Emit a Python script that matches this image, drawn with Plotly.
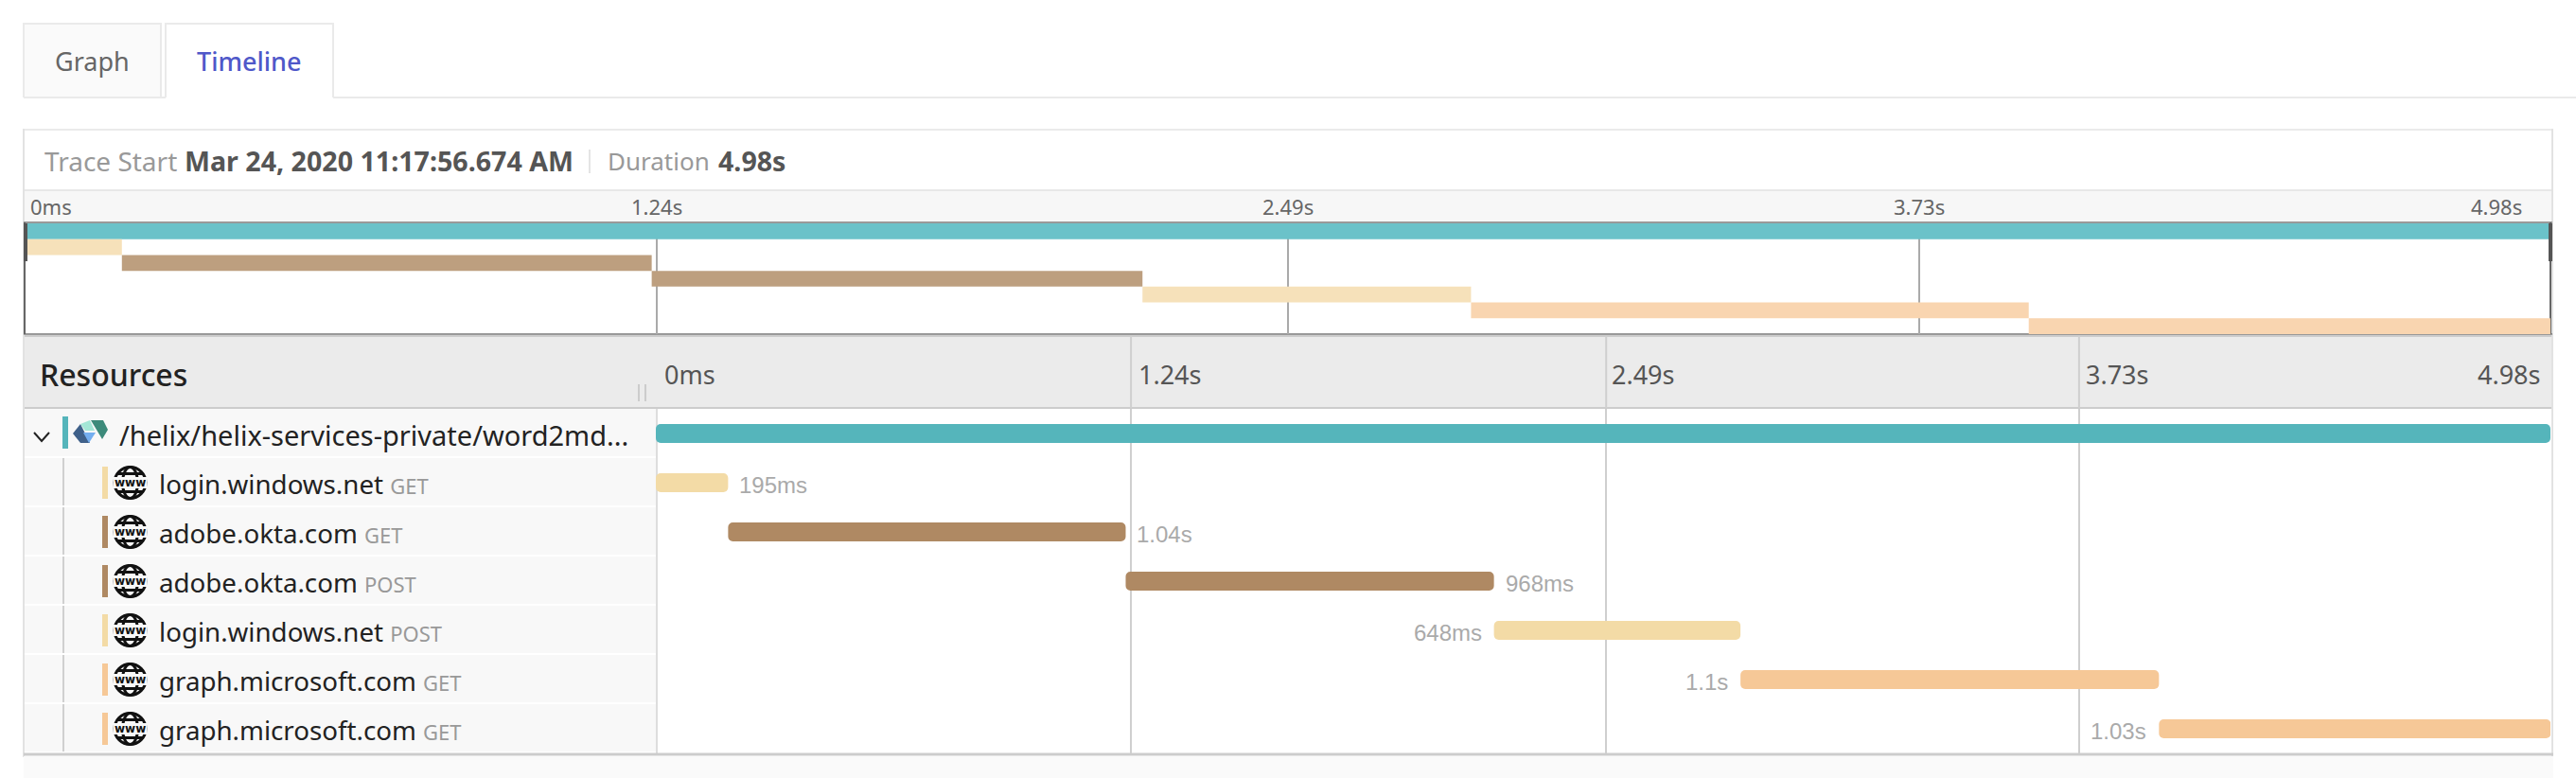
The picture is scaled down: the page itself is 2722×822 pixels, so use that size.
import plotly.graph_objects as go

W, H = 2722, 822

# trace data, seconds
resources = ['/helix/helix-services-private/word2md...', 'login.windows.net', 'adobe.okta.com',
             'adobe.okta.com', 'login.windows.net', 'graph.microsoft.com', 'graph.microsoft.com']
methods = ['', 'GET', 'GET', 'POST', 'POST', 'GET', 'GET']
starts = [0, 0, 0.19, 1.235, 2.203, 2.851, 3.951]
durations = [4.98, 0.19, 1.045, 0.968, 0.648, 1.1, 1.03]
duration_labels = ['', '195ms', '1.04s', '968ms', '648ms', '1.1s', '1.03s']
label_sides = ['', 'right', 'right', 'right', 'left', 'left', 'left']
bar_colors = ['#55b5bb', '#f3dba6', '#af8963', '#af8963', '#f3dba6', '#f6c897', '#f6c897']
mini_colors = ['#6bc2c9', '#f6e1ba', '#bd9f7f', '#bd9f7f', '#f6e1ba', '#f9d5b0', '#f9d5b0']
tick_vals = [0, 1.245, 2.49, 3.735, 4.98]
tick_text = ['0ms', '1.24s', '2.49s', '3.73s', '4.98s']
# the row pane's gridlines sit a touch to the right of the minimap's
main_grid = [1.249, 2.498, 3.741]
rows = list(range(len(resources)))

UI_FONT = 'Noto Sans'
BAR_FONT = 'Liberation Sans'


def px(x):
    return x / W


def py(y):
    return 1 - y / H


def rect(x0, y0, x1, y1, fill, layer='below'):
    return dict(type='rect', xref='paper', yref='paper', x0=px(x0), x1=px(x1), y0=py(y0), y1=py(y1),
                fillcolor=fill, line=dict(width=0), layer=layer)


def hline(x0, x1, y, color, width=2):
    return dict(type='line', xref='paper', yref='paper', x0=px(x0), x1=px(x1), y0=py(y), y1=py(y),
                line=dict(color=color, width=width), layer='below')


def polygon(points, fill):
    path = 'M ' + ' L '.join(f'{px(x):.5f},{py(y):.5f}' for x, y in points) + ' Z'
    return dict(type='path', xref='paper', yref='paper', path=path, fillcolor=fill, line=dict(width=0), layer='above')


def label(x, y, text, size, color, anchor='left', family=UI_FONT, weight=None):
    return dict(xref='paper', yref='paper', x=px(x), y=py(y), text=text, showarrow=False, xanchor=anchor,
                yanchor='middle', borderpad=0, font=dict(size=size, color=color, family=family, weight=weight))


def globe(cx, cy):
    r = 16.5
    items = []
    for rx in (r, 8):
        items.append(dict(type='circle', xref='paper', yref='paper', x0=px(cx - rx), x1=px(cx + rx),
                          y0=py(cy - r), y1=py(cy + r), line=dict(color='#111111', width=3), layer='above'))
    for dy in (-9.5, 9.5):
        items.append(dict(type='line', xref='paper', yref='paper', x0=px(cx - 14), x1=px(cx + 14),
                          y0=py(cy + dy), y1=py(cy + dy), line=dict(color='#111111', width=3), layer='above'))
    items.append(rect(cx - 18, cy - 6, cx + 18, cy + 6, '#f8f8f8', layer='above'))
    return items


fig = go.Figure()

# minimap
fig.add_trace(go.Bar(y=rows, x=durations, base=starts, orientation='h', width=1.0,
                     marker=dict(color=mini_colors, line=dict(width=0)),
                     xaxis='x', yaxis='y', hoverinfo='skip', showlegend=False))
# main timeline
fig.add_trace(go.Bar(y=rows, x=durations, base=starts, orientation='h', width=20 / 52,
                     marker=dict(color=bar_colors, line=dict(width=0), cornerradius=5),
                     xaxis='x2', yaxis='y2', hoverinfo='skip', showlegend=False))

shapes = []
# tabs
shapes.append(rect(25, 24, 170, 103, '#fafafa'))
shapes.append(hline(25, 2722, 103, '#eaeaea'))
shapes.append(rect(175, 24, 352, 105, '#ffffff'))
for x0, x1 in ((25, 170), (175, 352)):
    shapes.append(hline(x0, x1, 25, '#eaeaea'))
    shapes.append(rect(x0 - 1, 24, x0 + 1, 103, '#eaeaea'))
    shapes.append(rect(x1 - 1, 24, x1 + 1, 103, '#eaeaea'))

# panel frame
shapes.append(rect(25, 136, 2698, 800, '#ffffff'))
shapes.append(hline(25, 2698, 137, '#eaeaea'))
shapes.append(rect(24, 136, 26, 800, '#e2e2e2'))
shapes.append(rect(2696, 136, 2698, 800, '#e2e2e2'))
shapes.append(rect(622, 158, 624, 183, '#e4e4e4'))

# minimap header and frame
shapes.append(rect(26, 201, 2696, 234, '#f7f7f7'))
shapes.append(hline(26, 2696, 201, '#e8e8e8'))
shapes.append(hline(25, 2697, 235, '#999999'))
shapes.append(hline(25, 2697, 353, '#999999'))
shapes.append(rect(25, 235, 27, 353, '#666666'))
shapes.append(rect(2694, 235, 2696, 353, '#666666'))
shapes.append(rect(25, 236, 29, 276, '#555555', layer='above'))
shapes.append(rect(2693, 236, 2697, 276, '#555555', layer='above'))

# resource header
shapes.append(rect(26, 354, 2696, 431, '#ebebeb'))
shapes.append(hline(26, 2696, 355, '#cccccc'))
shapes.append(hline(26, 2696, 431, '#cccccc'))
shapes.append(rect(674, 430 - 24, 676, 430 - 6, '#cccccc'))
shapes.append(rect(681, 430 - 24, 683, 430 - 6, '#cccccc'))

# resource rows
shapes.append(rect(26, 432, 693, 796, '#ffffff'))
for row in rows:
    top = 432 + row * 52
    shapes.append(rect(26, top, 693, top + 50, '#f8f8f8'))
    cy = top + 26
    if row == 0:
        shapes.append(rect(66, 440, 72, 474, bar_colors[0]))
    else:
        shapes.append(rect(66, top, 68, top + 50, '#d0d0d0'))
        shapes.append(rect(108, cy - 17, 114, cy + 17, bar_colors[row]))
        shapes.extend(globe(137.5, cy))
shapes.append(rect(693, 432, 695, 796, '#dddddd'))
shapes.append(rect(25, 799, 2698, 822, '#fafafa'))
shapes.append(hline(25, 2698, 797, '#cccccc', 3))

# chevron
shapes.append(dict(type='path', xref='paper', yref='paper',
                   path=f'M {px(36)},{py(457)} L {px(44)},{py(466)} L {px(52)},{py(457)}',
                   line=dict(color='#222222', width=2), layer='above'))

# helix logo
shapes.append(polygon([(77, 458), (85, 448), (95, 468), (85, 468)], '#3f6089'))
shapes.append(polygon([(88, 457), (101, 457), (94, 468)], '#74aef0'))
shapes.append(polygon([(85, 448), (95, 444), (100, 455), (90, 455)], '#a4e6d6'))
shapes.append(polygon([(96, 444), (109, 444), (114, 454), (108, 464)], '#3c8a7a'))

# gridlines through the header, same scale as the rows below
for t in main_grid:
    shapes.append(dict(type='line', xref='x2', yref='paper', x0=t, x1=t, y0=py(355), y1=py(431),
                       line=dict(color='#cfcfcf', width=2), layer='above'))

annotations = [
    label(57, 64, 'Graph', 27, '#666666'),
    label(207, 64, 'Timeline', 27, '#4f58c9', weight=500),
    label(46, 170, 'Trace Start', 28, '#999999'),
    label(194, 170, 'Mar 24, 2020 11:17:56.674 AM', 28.6, '#555555', weight=700),
    label(641, 170, 'Duration', 26, '#999999'),
    label(758, 170, '4.98s', 28.6, '#555555', weight=700),
    label(41, 395, 'Resources', 32, '#222222', weight=500),
]

# minimap tick labels
for t, text in zip(tick_vals, tick_text):
    anchor, shift = 'center', 0
    if t == tick_vals[0]:
        anchor, shift = 'left', 3
    elif t == tick_vals[-1]:
        anchor, shift = 'right', -28
    annotations.append(dict(xref='x', yref='paper', x=t, y=py(218), text=text, showarrow=False, xanchor=anchor,
                            xshift=shift, yanchor='middle', font=dict(size=22, color='#666666', family=UI_FONT)))

# header tick labels
for t, text in zip(tick_vals, tick_text):
    anchor, shift = 'left', 7
    if t == tick_vals[-1]:
        anchor, shift = 'right', -8
    annotations.append(dict(xref='x2', yref='paper', x=t, y=py(395), text=text, showarrow=False, xanchor=anchor,
                            xshift=shift, yanchor='middle', font=dict(size=27, color='#555555', family=UI_FONT)))

# resource names
for row, name, method in zip(rows, resources, methods):
    cy = 432 + row * 52 + 26
    if row == 0:
        annotations.append(label(125, cy + 1, name, 29, '#222222'))
    else:
        text = f'{name} <span style="font-size:22px;color:#999999">{method}</span>'
        annotations.append(label(167, cy + 1, text, 27.7, '#222222'))
        annotations.append(label(137.5, cy, 'www', 12, '#111111', anchor='center', family='DejaVu Sans', weight=700))

# duration labels
for row, text, side, start, dur in zip(rows, duration_labels, label_sides, starts, durations):
    if not text:
        continue
    at_right = side == 'right'
    annotations.append(dict(xref='x2', yref='y2', x=start + dur if at_right else start, y=row, text=text,
                            showarrow=False, xanchor='left' if at_right else 'right',
                            xshift=10 if at_right else -11, yshift=-2, yanchor='middle',
                            font=dict(size=24, color='#aaaaaa', family=BAR_FONT)))

fig.update_layout(
    width=W,
    height=H,
    margin=dict(l=0, r=0, t=0, b=0),
    paper_bgcolor='#ffffff',
    plot_bgcolor='rgba(0,0,0,0)',
    barmode='overlay',
    showlegend=False,
    shapes=shapes,
    annotations=annotations,
    xaxis=dict(domain=[px(27), px(2695)], range=[0, 4.98], anchor='y', tickvals=tick_vals[1:-1], showticklabels=False,
               showgrid=True, gridcolor='#aaaaaa', gridwidth=2, zeroline=False, showline=False, fixedrange=True),
    yaxis=dict(domain=[py(353), py(236)], range=[6.5, -0.5], anchor='x', showticklabels=False, showgrid=False,
               zeroline=False, showline=False, fixedrange=True),
    xaxis2=dict(domain=[px(693), px(2695)], range=[0, 4.98], anchor='y2', tickvals=main_grid, showticklabels=False,
                showgrid=True, gridcolor='#cfcfcf', gridwidth=2, zeroline=False, showline=False, fixedrange=True),
    yaxis2=dict(domain=[py(796), py(432)], range=[6.5, -0.5], anchor='x2', showticklabels=False, showgrid=False,
                zeroline=False, showline=False, fixedrange=True),
)

fig.write_html("out.html", config=dict(displayModeBar=False),
               post_script="document.body.style.margin='0';document.body.style.overflow='hidden';")
